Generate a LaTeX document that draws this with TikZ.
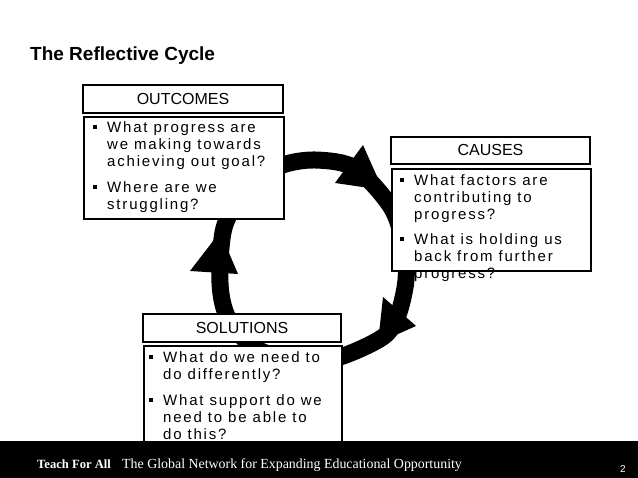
\documentclass[tikz,border=0pt]{standalone}
\usepackage{fontspec}
\setmainfont{Liberation Sans}
\newfontfamily\boxfont{Liberation Sans}[LetterSpace=12]
\newfontfamily\footfont{Liberation Serif}
\usetikzlibrary{positioning}
\newcommand{\bul}{\leavevmode\llap{\rule[4pt]{4pt}{4pt}\hspace{10pt}}}

\begin{document}
\begin{tikzpicture}[x=1pt,y=1pt,
  headbox/.style={draw, line width=1.6pt, fill=white, minimum width=200pt, minimum height=28pt, inner sep=0pt, font=\fontsize{16}{16}\selectfont},
  bodybox/.style={draw, line width=1.6pt, fill=white, minimum width=200pt, inner sep=0pt, anchor=north west},
  bullets/.style={anchor=base west, align=left, inner sep=0pt, font=\boxfont\fontsize{15}{17}\selectfont},
  ring/.style={line width=17pt},
  foottext/.style={anchor=base west, inner sep=0pt, text=white}]
\useasboundingbox (0,0) rectangle (638,478);
\node[anchor=base west, inner sep=0pt, font=\bfseries\fontsize{19}{19}\selectfont] (title) at (30,417) {The Reflective Cycle};
% cycle ring and its three heads
\draw[ring] plot[smooth cycle] coordinates {(220,195) (224,250) (246,290) (280,312) (315,318) (355,310) (391,271) (404,233) (406,198) (398,163) (383,141) (340,121) (300,116) (255,130) (228,160)};
\foreach \a/\b/\c in {{(363,333)}/{(335,295)}/{(383,288)}, {(190,207)}/{(238,204)}/{(220,246)}, {(383,181)}/{(416,152)}/{(378,135)}}
  \fill \a -- \b -- \c -- cycle;
% outcomes (base = last line)
\node[headbox] (outtitle) at (183,379) {OUTCOMES};
\node[bodybox, minimum height=102pt] (outbody) at (83,362) {};
\node[bullets] (outtext) at (107,268) {\bul What progress are\\ we making towards\\ achieving out goal?\\[9pt] \bul Where are we\\ struggling?};
% causes
\node[headbox, minimum width=199pt, minimum height=27pt] (caustitle) at (490.5,327.5) {CAUSES};
\node[bodybox, minimum width=199pt, minimum height=102pt] (causbody) at (391,310) {};
\node[bullets] (caustext) at (414,199) {\bul What factors are\\ contributing to\\ progress?\\[8pt] \bul What is holding us\\ back from further\\ progress?};
% solutions
\node[headbox, minimum width=198pt] (soltitle) at (242,150) {SOLUTIONS};
\node[bodybox, minimum width=198pt, minimum height=99pt] (solbody) at (143,133) {};
\node[bullets] (soltext) at (163,38) {\bul What do we need to\\ do differently?\\[9pt] \bul What support do we\\ need to be able to\\ do this?};
% footer band
\node[fill=black, minimum width=638pt, minimum height=37pt, inner sep=0pt, anchor=south west] (footer) at (0,0) {};
\node[foottext, font=\footfont\bfseries\fontsize{12.6}{14}\selectfont] (tfa) at (37,9) {Teach For All};
\node[foottext, font=\footfont\fontsize{13.9}{15}\selectfont] (tagline) at (122,9) {The Global Network for Expanding Educational Opportunity};
\node[foottext, font=\fontsize{10}{10}\selectfont] (pagenum) at (620,5) {2};
\end{tikzpicture}
\end{document}
